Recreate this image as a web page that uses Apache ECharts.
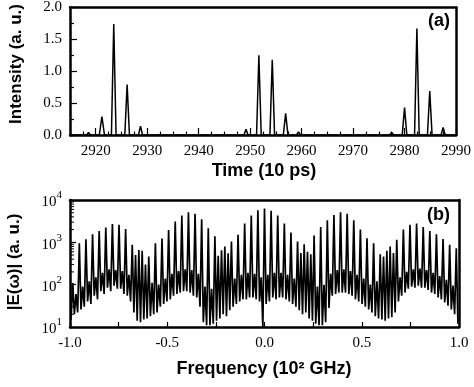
<!DOCTYPE html>
<html><head><meta charset="utf-8">
<script src="https://cdn.jsdelivr.net/npm/echarts@6/dist/echarts.min.js"></script>
<style>html,body{margin:0;padding:0;background:#fff}#c{width:474px;height:387px}</style>
</head><body><div id="c"></div>
<script>
// ---- Panel (a): intensity vs time ----
const topTime = [2915, 2918.2, 2918.6, 2919.0, 2920.7, 2921.2, 2921.7, 2923.05, 2923.5, 2923.95, 2925.65, 2926.1, 2926.55, 2928.3, 2928.7, 2929.1, 2948.8, 2949.2, 2949.6, 2951.25, 2951.7, 2952.15, 2953.85, 2954.3, 2954.75, 2956.45, 2956.9, 2957.35, 2959.0, 2959.4, 2959.8, 2977.1, 2977.5, 2977.9, 2979.55, 2980.0, 2980.45, 2981.95, 2982.4, 2982.85, 2984.45, 2984.9, 2985.35, 2987.1, 2987.5, 2987.9, 2990];
const topIntensity = [0, 0, 0.04, 0, 0, 0.29, 0, 0, 1.74, 0, 0, 0.79, 0, 0, 0.14, 0, 0, 0.09, 0, 0, 1.25, 0, 0, 1.18, 0, 0, 0.34, 0, 0, 0.05, 0, 0, 0.04, 0, 0, 0.43, 0, 0, 1.67, 0, 0, 0.69, 0, 0, 0.12, 0, 0];
const topMajorTicks = [2920, 2930, 2940, 2950, 2960, 2970, 2980, 2990];
const topMinorTicks = [2917.5, 2922.5, 2925, 2927.5, 2932.5, 2935, 2937.5, 2942.5, 2945, 2947.5, 2952.5, 2955, 2957.5, 2962.5, 2965, 2967.5, 2972.5, 2975, 2977.5, 2982.5, 2985, 2987.5];

// ---- Panel (b): spectrum |E(w)| vs frequency ----
const specFreq = [
-.9945,-.986,-.9775,-.969,-.9605,
-.952,-.9435,-.935,-.9265, -.918,-.9095,-.901,-.8925, -.884,-.8755,-.867,-.8585, -.85,-.8415,-.833,-.8245,
-.816,-.8075,-.799,-.7905, -.782,-.7735,-.765,-.7565, -.748,-.7395,-.731,-.7225, -.714,-.7055,-.697,-.6885,
-.68,-.6715,-.663,-.6545, -.646,-.6375,-.629,-.6205, -.612,-.6035,-.595,-.5865, -.578,-.5695,-.561,-.5525,
-.544,-.5355,-.527,-.5185, -.51,-.5015,-.493,-.4845, -.476,-.4675,-.459,-.4505, -.442,-.4335,-.425,-.4165,
-.408,-.3995,-.391,-.3825, -.374,-.3655,-.357,-.3485, -.34,-.3315,-.323,-.3145, -.306,-.2975,-.289,-.2805,
-.272,-.2635,-.255,-.2465, -.238,-.2295,-.221,-.2125, -.204,-.1955,-.187,-.1785, -.17,-.1615,-.153,-.1445,
-.136,-.1275,-.119,-.1105, -.102,-.0935,-.085,-.0765, -.068,-.0595,-.051,-.0425, -.034,-.0255,-.017,-.0085,
0,.0085,.017,.0255, .034,.0425,.051,.0595, .068,.0765,.085,.0935, .102,.1105,.119,.1275,
.136,.1445,.153,.1615, .17,.1785,.187,.1955, .204,.2125,.221,.2295, .238,.2465,.255,.2635,
.272,.2805,.289,.2975, .306,.3145,.323,.3315, .34,.3485,.357,.3655, .374,.3825,.391,.3995,
.408,.4165,.425,.4335, .442,.4505,.459,.4675, .476,.4845,.493,.5015, .51,.5185,.527,.5355,
.544,.5525,.561,.5695, .578,.5865,.595,.6035, .612,.6205,.629,.6375, .646,.6545,.663,.6715,
.68,.6885,.697,.7055, .714,.7225,.731,.7395, .748,.7565,.765,.7735, .782,.7905,.799,.8075,
.816,.8245,.833,.8415, .85,.8585,.867,.8755, .884,.8925,.901,.9095, .918,.9265,.935,.9435,
.952,.9605,.969,.9775, .986,.9945];
const specAmp = [
15, 110, 20, 60, 22,
950, 26, 90, 30,  1180, 40, 120, 35,  1550, 55, 150, 45,  1850, 70, 190, 60,
2250, 85, 230, 70,  2700, 95, 220, 80,  2600, 80, 210, 60,  2050, 55, 170, 40,
870, 22, 500, 14,  660, 13, 630, 15,  300, 16, 460, 18,  110, 20, 950, 22,
100, 30, 1230, 35,  140, 40, 1950, 45,  180, 55, 3100, 60,  210, 65, 4300, 70,
230, 70, 5100, 65,  220, 55, 4700, 50,  180, 30, 3500, 13,  90, 11, 2150, 11,
80, 12, 1400, 14,  480, 16, 650, 20,  800, 18, 550, 25,  1050, 30, 140, 35,
1500, 40, 170, 45,  2800, 45, 190, 50,  4300, 50, 180, 45,  5700, 40, 150, 10,
6300, 35, 170, 40,  5600, 50, 190, 45,  4300, 50, 190, 50,  2800, 45, 170, 40,
1700, 35, 140, 30,  1050, 25, 560, 20,  900, 22, 600, 16,  520, 14, 1450, 12,
90, 11, 2300, 11,  100, 13, 3300, 28,  180, 55, 4400, 60,  220, 65, 5100, 65,
230, 65, 4700, 60,  210, 55, 3300, 45,  170, 40, 2000, 35,  140, 30, 1250, 26,
100, 22, 950, 18,  120, 16, 520, 15,  460, 14, 630, 16,  800, 17, 560, 22,
1150, 40, 150, 55,  2000, 65, 200, 80,  2600, 90, 230, 85,  2800, 95, 240, 85,
2300, 85, 220, 75,  1850, 65, 190, 60,  1550, 50, 160, 45,  1200, 38, 130, 32,
870, 26, 95, 20,  720, 12];
const logMinorTicks = [20, 30, 40, 50, 60, 70, 80, 90, 200, 300, 400, 500, 600, 700, 800, 900, 2000, 3000, 4000, 5000, 6000, 7000, 8000, 9000];

const serif = 'Liberation Serif';
const topData = topTime.map((t, i) => [t, topIntensity[i]]);
const specData = specFreq.map((f, i) => [f, specAmp[i]]);

const chart = echarts.init(document.getElementById('c'), null, {renderer: 'canvas'});
const black = '#000';
const frameLine = {show: true, onZero: false, lineStyle: {color: black, width: 2.5}};
const noTick = {show: false};
const noLabel = {show: false};
const noSplit = {show: false};
chart.setOption({
  animation: false,
  backgroundColor: '#fff',
  grid: [
    {left: 70, top: 5, width: 388, height: 130},
    {left: 70, top: 200, width: 389, height: 127}
  ],
  xAxis: [
    {type: 'value', gridIndex: 0, min: 2915, max: 2990, interval: 5, position: 'bottom',
     axisLine: frameLine,
     axisTick: {show: true, inside: true, length: 7, customValues: topMajorTicks, lineStyle: {color: black, width: 1.2}},
     axisLabel: {show: true, customValues: topMajorTicks, color: black, fontFamily: serif, fontSize: 15, margin: 9, formatter: v => String(v)},
     splitLine: noSplit},
    {type: 'value', gridIndex: 0, min: 2915, max: 2990, interval: 5, position: 'bottom',
     axisLine: {show: false, onZero: false},
     axisTick: {show: true, inside: true, length: 3.5, customValues: topMinorTicks, lineStyle: {color: black, width: 1.2}},
     axisLabel: noLabel, splitLine: noSplit},
    {type: 'value', gridIndex: 1, min: -1, max: 1, interval: 0.25, position: 'bottom',
     axisLine: frameLine,
     axisTick: {show: true, inside: true, length: 5, lineStyle: {color: black, width: 1.2}},
     axisLabel: {show: true, color: black, fontFamily: serif, fontSize: 15, margin: 9,
       formatter: v => (Math.abs(v * 2 - Math.round(v * 2)) < 1e-6 ? v.toFixed(1) : '')},
     splitLine: noSplit},
    {type: 'value', gridIndex: 0, min: 2915, max: 2990, position: 'top', axisLine: frameLine, axisTick: noTick, axisLabel: noLabel, splitLine: noSplit},
    {type: 'value', gridIndex: 1, min: -1, max: 1, position: 'top', axisLine: frameLine, axisTick: noTick, axisLabel: noLabel, splitLine: noSplit}
  ],
  yAxis: [
    {type: 'value', gridIndex: 0, min: 0, max: 2, interval: 0.5,
     axisLine: frameLine,
     axisTick: {show: true, inside: true, length: 7, lineStyle: {color: black, width: 1.2}},
     minorTick: {show: true, splitNumber: 2, length: 4, lineStyle: {color: black, width: 1.2}},
     axisLabel: {show: true, color: black, fontFamily: serif, fontSize: 15, margin: 8, formatter: v => v.toFixed(1)},
     splitLine: noSplit, minorSplitLine: noSplit},
    {type: 'log', logBase: 10, gridIndex: 1, min: 10, max: 10000,
     axisLine: frameLine,
     axisTick: {show: true, inside: true, length: 6, lineStyle: {color: black, width: 1.2}},
     axisLabel: {show: true, color: black, margin: 8,
       formatter: v => '{b|10}{e|' + Math.round(Math.log10(v)) + '}',
       rich: {b: {fontFamily: serif, fontSize: 15, color: black, lineHeight: 20, verticalAlign: 'bottom'},
              e: {fontFamily: serif, fontSize: 11, color: black, lineHeight: 12, verticalAlign: 'top'}}},
     splitLine: noSplit},
    {type: 'value', gridIndex: 0, min: 0, max: 2, position: 'right', axisLine: frameLine, axisTick: noTick, axisLabel: noLabel, splitLine: noSplit},
    {type: 'log', gridIndex: 1, min: 10, max: 10000, position: 'right', axisLine: frameLine, axisTick: noTick, axisLabel: noLabel, splitLine: noSplit}
  ],
  series: [
    {type: 'line', xAxisIndex: 0, yAxisIndex: 0, data: topData, showSymbol: false, symbol: 'none',
     lineStyle: {color: black, width: 1.5}, z: 3},
    {type: 'line', xAxisIndex: 2, yAxisIndex: 1, data: specData, showSymbol: false, symbol: 'none', sampling: 'none',
     lineStyle: {color: black, width: 1.7}, z: 3},
    {type: 'custom', xAxisIndex: 2, yAxisIndex: 1, silent: true, z: 4, clip: false,
     data: logMinorTicks.map(v => [-1, v]),
     renderItem: (params, api) => {
       const p = api.coord([api.value(0), api.value(1)]);
       return {type: 'line', shape: {x1: p[0], y1: p[1], x2: p[0] + 4, y2: p[1]}, style: {stroke: black, lineWidth: 1}};
     }}
  ],
  graphic: [
    {type: 'text', x: 16, y: 64, rotation: Math.PI / 2,
     style: {text: 'Intensity (a. u.)', font: 'bold 17px "Liberation Sans"', fill: black, align: 'center', verticalAlign: 'middle'}},
    {type: 'text', x: 264, y: 171,
     style: {text: 'Time (10 ps)', font: 'bold 18px "Liberation Sans"', fill: black, align: 'center', verticalAlign: 'middle'}},
    {type: 'text', x: 14, y: 262, rotation: Math.PI / 2,
     style: {text: '|E(ω)| (a. u.)', font: 'bold 17px "Liberation Sans"', fill: black, align: 'center', verticalAlign: 'middle'}},
    {type: 'text', x: 264, y: 369,
     style: {text: 'Frequency (10² GHz)', font: 'bold 18px "Liberation Sans"', fill: black, align: 'center', verticalAlign: 'middle'}},
    {type: 'text', x: 450, y: 21,
     style: {text: '(a)', font: 'bold 18px "Liberation Sans"', fill: black, align: 'right', verticalAlign: 'middle'}},
    {type: 'text', x: 450, y: 215,
     style: {text: '(b)', font: 'bold 18px "Liberation Sans"', fill: black, align: 'right', verticalAlign: 'middle'}}
  ]
});
</script></body></html>
